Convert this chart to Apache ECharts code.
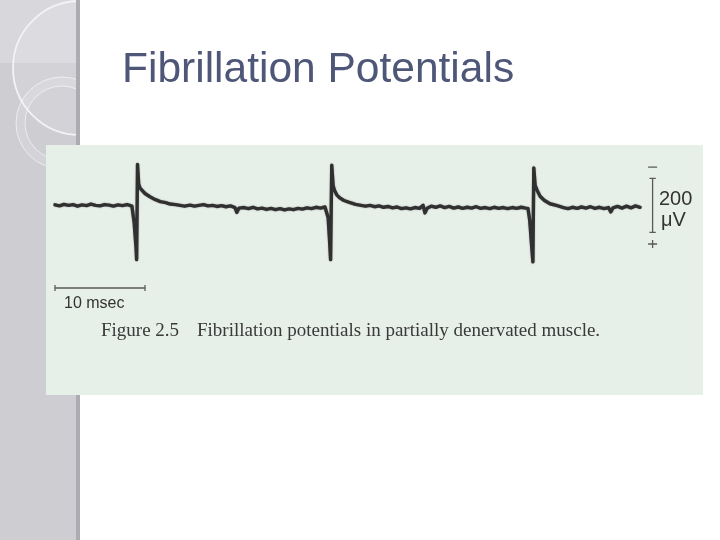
<!DOCTYPE html>
<html><head><meta charset="utf-8">
<script src="https://cdn.jsdelivr.net/npm/echarts@6/dist/echarts.min.js"></script>
<style>html,body{margin:0;padding:0;background:#fff}#c{width:720px;height:540px}</style>
</head><body><div id="c"></div>
<script>
// ---- data (time in msec, potential in microvolts, negative = up) ----
const traceTimeMs = [
  0,0.5,1,1.5,2,2.5,3,3.5,4,4.5,5,5.5,6,6.5,7,7.5,8,8.3,
  8.55,8.8,9.0,9.07,9.17,9.3,9.45,10.0,10.55,11.1,11.7,12.3,12.8,13.4,13.9,
  14.4,15,15.5,16,16.5,17,17.5,18,18.5,19,19.5,20,20.2,20.45,21,21.5,22,22.5,23,23.5,24,24.5,25,25.5,26,26.5,27,27.5,28,28.5,29,29.5,30,
  30.17,30.35,30.5,30.62,30.75,30.9,31.05,31.3,31.6,32.1,32.7,33.4,34.0,
  34.5,35,35.5,36,36.5,37,37.5,38,38.5,39,39.5,40,40.5,40.9,41.1,41.35,41.8,42.3,42.8,43.3,43.8,44.3,44.8,45.3,45.8,46.3,46.8,47.3,47.8,48.3,48.8,49.3,49.8,50.3,50.8,51.3,51.8,52.3,
  52.55,52.75,52.95,53.1,53.2,53.35,53.55,53.9,54.35,55,55.8,
  56.5,57,57.5,58,58.5,59,59.5,60,60.5,61,61.5,61.75,62,62.5,63,63.5,64,64.5,65
];
const traceUv = [
  -8,-4,-10,-6,-9,-3,-8,-5,-11,-6,-4,-9,-7,-3,-8,-5,-9,-6,
  -3,60,150,195,-158,-85,-70,-50,-38,-28,-20,-16,-11,-9,-6,
  -3,-7,-3,-6,-9,-4,-6,-2,-5,-1,-4,2,20,4,2,6,1,7,4,9,5,10,6,11,7,10,5,8,3,6,1,4,0,
  2,40,120,195,-155,-80,-62,-45,-35,-24,-17,-10,-6,
  -3,-6,-1,-4,1,-2,3,0,6,3,7,2,5,-6,22,5,-3,1,-4,2,-2,4,0,5,1,4,-1,5,2,6,1,5,2,6,2,5,1,4,
  5,50,140,203,-145,-80,-63,-40,-25,-12,-5,
  2,6,1,5,0,4,-1,5,1,6,2,18,3,-2,4,-3,3,-4,1
];
const timeBarMs = [0, 10];
const timeBarLevelUv = 300;
const voltBarUv = [-106, 94];
const voltBarAtMs = 66.4;
const voltLabels = ['200', 'μV'];
const timeLabel = '10 msec';
const titleText = 'Fibrillation Potentials';
const captionNum = 'Figure 2.5';
const captionText = 'Fibrillation potentials in partially denervated muscle.';

// ---- build ----
const chart = echarts.init(document.getElementById('c'), null, {renderer: 'canvas'});
const trace = traceTimeMs.map((t, i) => [t, traceUv[i]]);
const tk = 11, tw = 0.35, sg = 0.5;
const segs = [
  [[timeBarMs[0], timeBarLevelUv], [timeBarMs[1], timeBarLevelUv]],
  [[timeBarMs[0], timeBarLevelUv - tk], [timeBarMs[0], timeBarLevelUv + tk]],
  [[timeBarMs[1], timeBarLevelUv - tk], [timeBarMs[1], timeBarLevelUv + tk]],
  [[voltBarAtMs, voltBarUv[0]], [voltBarAtMs, voltBarUv[1]]],
  [[voltBarAtMs - tw, voltBarUv[0]], [voltBarAtMs + tw, voltBarUv[0]]],
  [[voltBarAtMs - tw, voltBarUv[1]], [voltBarAtMs + tw, voltBarUv[1]]],
  [[voltBarAtMs - sg, voltBarUv[0] - 42], [voltBarAtMs + sg, voltBarUv[0] - 42]],
  [[voltBarAtMs - sg, voltBarUv[1] + 43], [voltBarAtMs + sg, voltBarUv[1] + 43]],
  [[voltBarAtMs, voltBarUv[1] + 28], [voltBarAtMs, voltBarUv[1] + 58]]
];
const segSeries = segs.map(s => ({
  type: 'line', data: s, showSymbol: false, silent: true, z: 3,
  lineStyle: {color: '#5a5a5a', width: 1.3}, animation: false
}));

const fontSans = "'Liberation Sans', Arial, sans-serif";
const fontSerif = "'Liberation Serif', 'Times New Roman', serif";

const graphics = [
  {type: 'rect', z: 0, shape: {x: 0, y: 0, width: 80, height: 540}, style: {fill: '#cdcdd2'}},
  {type: 'rect', z: 0, shape: {x: 0, y: 0, width: 77, height: 63}, style: {fill: '#d8d8dc'}},
  {type: 'sector', z: 1, shape: {cx: 80, cy: 68, r: 67, r0: 0, startAngle: Math.PI / 2, endAngle: Math.PI * 1.5},
    style: {fill: 'rgba(255,255,255,0.12)', stroke: '#f3f3f5', lineWidth: 1.8}},
  {type: 'ring', z: 1, shape: {cx: 62, cy: 123, r: 46, r0: 37},
    style: {fill: 'rgba(255,255,255,0.15)', stroke: 'rgba(250,250,252,0.65)', lineWidth: 1}},
  {type: 'rect', z: 2, shape: {x: 80, y: 0, width: 640, height: 145}, style: {fill: '#ffffff'}},
  {type: 'rect', z: 2, shape: {x: 76, y: 0, width: 4, height: 540}, style: {fill: '#acacb3'}},
  {type: 'rect', z: 3, shape: {x: 46, y: 145, width: 657, height: 250}, style: {fill: '#e7efe9'}},
  {type: 'text', z: 4, style: {text: titleText, x: 122, y: 70.4, font: '42.5px ' + fontSans, fill: '#4e5777',
    verticalAlign: 'middle', shadowColor: 'rgba(0,0,0,0.22)', shadowBlur: 3, shadowOffsetX: 1.5, shadowOffsetY: 1.5}},
  {type: 'text', z: 4, style: {text: voltLabels[0], x: 659, y: 199.6, font: '20px ' + fontSans, fill: '#333', verticalAlign: 'middle'}},
  {type: 'text', z: 4, style: {text: voltLabels[1], x: 661, y: 220.6, font: '20px ' + fontSans, fill: '#333', verticalAlign: 'middle'}},
  {type: 'text', z: 4, style: {text: timeLabel, x: 64, y: 303.9, font: '16px ' + fontSans, fill: '#333', verticalAlign: 'middle'}},
  {type: 'text', z: 4, style: {text: captionNum, x: 101, y: 330.9, font: '19px ' + fontSerif, fill: '#3a3a3a', verticalAlign: 'middle'}},
  {type: 'text', z: 4, style: {text: captionText, x: 197, y: 330.9, font: '19px ' + fontSerif, fill: '#3a3a3a', verticalAlign: 'middle'}}
];

chart.setOption({
  animation: false,
  backgroundColor: '#ffffff',
  graphic: {elements: graphics},
  grid: {left: 55, top: 153, width: 648, height: 140.4, containLabel: false},
  xAxis: {type: 'value', min: 0, max: 72, show: false},
  yAxis: {type: 'value', min: -200, max: 320, inverse: true, show: false},
  series: [{
    type: 'line', data: trace, showSymbol: false, silent: true, z: 5,
    lineStyle: {color: '#303030', width: 3.4, join: 'round', cap: 'round',
      shadowColor: 'rgba(0,0,0,0.35)', shadowBlur: 1.5}
  }].concat(segSeries)
});
</script></body></html>
